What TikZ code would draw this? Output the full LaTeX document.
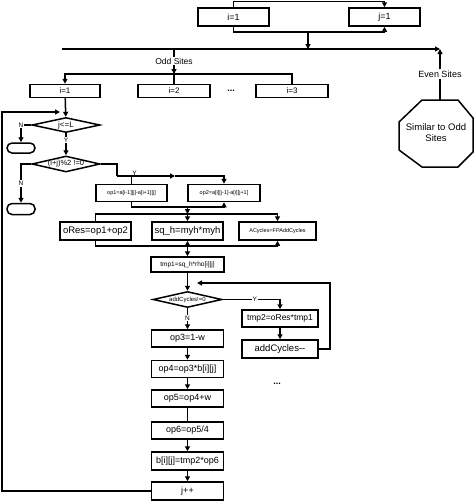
\documentclass[tikz,border=0pt]{standalone}
\usepackage{fontspec}
\setmainfont{Liberation Sans}
\usepackage{tikz}
\usetikzlibrary{shapes.geometric}
\usetikzlibrary{arrows.meta}
\usetikzlibrary{positioning}
\tikzset{
	flow/.style={line width=1.5pt},
	opbox/.style={draw, line width=1.5pt, rectangle, minimum width=71pt, minimum height=17pt, inner sep=0pt, font=\fontsize{9}{10}\selectfont},
	decbox/.style={draw, line width=1.5pt, diamond, aspect=4.3, minimum width=68pt, minimum height=15pt, inner sep=0pt, font=\fontsize{8}{9}\selectfont},
	endbox/.style={draw, line width=1.5pt, rounded corners=5pt, minimum width=28pt, minimum height=10pt, inner sep=0pt},
	lbl/.style={font=\fontsize{6.5}{7}\selectfont, inner sep=1pt, fill=white},
	>={Triangle[length=5pt,width=5pt]}
}

\begin{document}
\begin{tikzpicture}[x=1pt, y=-1pt]

					\useasboundingbox (0,0) rectangle (474,501);

					\node[opbox, minimum height=18pt] (ione) at (233.5,17) {i=1};
					\node[opbox, minimum height=18pt] (jone) at (384.5,17) {j=1};
					\draw[flow,->] (ione.north) -- ++(0,-6) -| (jone.north);
					\draw[flow,->] (ione.south) -- ++(0,5) -| (jone.south);

					\coordinate (topmid) at (308,31);
					\coordinate (sitesleft) at (62,49);
					\coordinate (sitesmid) at (308,49);
					\coordinate (sitesright) at (440,49);
					\draw[flow,->] (topmid) -- (sitesmid);
					\draw[flow,->] (sitesleft) -- (sitesright);

					\node[lbl, font=\fontsize{8.5}{9}\selectfont] (odd) at (174,61) {Odd Sites};
					\coordinate (oddbar) at (174,74);
					\draw[flow] (odd |- sitesleft) -- (odd);
					\draw[flow,->] (odd) -- (oddbar);

					\node[opbox, minimum width=70pt, minimum height=13pt, font=\fontsize{8}{9}\selectfont] (siteone) at (65,91) {i=1};
					\node[opbox, minimum width=72pt, minimum height=13pt, font=\fontsize{8}{9}\selectfont] (sitetwo) at (174,91) {i=2};
					\node[opbox, minimum width=72pt, minimum height=13pt, font=\fontsize{8}{9}\selectfont] (sitethree) at (292,91) {i=3};
					\node[font=\fontsize{9}{9}\selectfont\bfseries] (dotsone) at (231,91) {...};
					\draw[flow,->] (oddbar) -| (siteone.north);
					\draw[flow] (oddbar) -- (sitetwo.north);
					\draw[flow] (oddbar) -| (sitethree.north);

					\node[decbox] (jle) at (66,125) {j<=L};
					\draw[flow,->] (siteone) -- (jle);
					\node[endbox] (stopone) at (21,148) {};
					\draw[flow,->] (jle.west) -| node[lbl, pos=0.5] (nlblone) {N} (stopone.north);

					\node[decbox, minimum height=16pt, font=\fontsize{7.5}{8}\selectfont] (parity) at (66,164) {(i+j)\%2 !=0};
					\draw[flow,->] (jle.south) -- node[lbl, pos=0.3] (ylblone) {Y} (parity.north);
					\node[endbox, minimum height=11pt] (stoptwo) at (21,209) {};
					\draw[flow,->] (parity.west) -| node[lbl, pos=0.75] (nlbltwo) {N} (stoptwo.north);

					\node[opbox, font=\fontsize{5.5}{6}\selectfont] (opone) at (131.5,193) {op1=a[i-1][j]-a[i+1][j]};
					\node[opbox, minimum width=72pt, font=\fontsize{5.5}{6}\selectfont] (optwo) at (224,193) {op2=a[i][j-1]-a[i][j+1]};
					\coordinate (forka) at (117,176);
					\coordinate (forkb) at (175,176);
					\draw[flow] (parity.east) -| (forka);
					\draw[flow,->] (forka) -- (forkb);
					\draw[flow,->] (forkb) -| (optwo.north);
					\draw[flow] (forka -| opone.north) node[lbl, fill=none, above right=-1pt and -1pt] (ylbltwo) {Y} -- (opone.north);

					\coordinate (joina) at (187.5,207);
					\coordinate (forkc) at (187.5,214);
					\draw[flow] (opone.south) |- (joina);
					\draw[flow,->] (joina) -| (optwo.south);
					\draw[flow,->] (joina) -- (forkc);

					\node[opbox, minimum height=18pt, font=\fontsize{9.5}{10}\selectfont] (ores) at (95.5,231) {oRes=op1+op2};
					\node[opbox, minimum height=18pt, font=\fontsize{9.5}{10}\selectfont] (sqh) at (187.5,231) {sq\_h=myh*myh};
					\node[opbox, minimum width=77pt, minimum height=18pt, font=\fontsize{5.5}{6}\selectfont] (acyc) at (277.5,231) {ACycles=FPAddCycles};
					\draw[flow] (forkc) -| (ores.north);
					\draw[flow,->] (forkc) -- (sqh.north);
					\draw[flow,->] (forkc) -| (acyc.north);

					\coordinate (joinb) at (187.5,246);
					\node[opbox, minimum width=73pt, minimum height=15pt, font=\fontsize{6.5}{7}\selectfont] (tmpone) at (187.5,264.5) {tmp1=sq\_h*rho[i][j]};
					\draw[flow] (ores.south) |- (joinb);
					\draw[flow,->] (joinb) -| (acyc.south);
					\draw[flow,->] (joinb) -- (sqh.south);
					\draw[flow,->] (joinb) -- (tmpone.north);

					\node[decbox, minimum width=69pt, minimum height=16pt, font=\fontsize{6}{6}\selectfont] (addchk) at (187.5,299.5) {addCycles!=0};
					\draw[flow,->] (tmpone) -- (addchk);

					\node[opbox, minimum width=76pt, font=\fontsize{8.5}{9}\selectfont] (tmptwo) at (280,318.5) {tmp2=oRes*tmp1};
					\node[opbox, minimum width=76pt, minimum height=18pt, font=\fontsize{9.5}{10}\selectfont] (addcyc) at (280,349) {addCycles-{}-};
					\draw[flow,->] (addchk.east) -| node[lbl, pos=0.28] (ylblthree) {Y} (tmptwo.north);
					\draw[flow,->] (tmptwo) -- (addcyc);
					\coordinate (loopc) at (330,283);
					\coordinate (loopd) at (197,283);
					\draw[flow,->] (addcyc.east) -| (loopc) -- (loopd);

					\node[opbox, minimum width=72pt] (opthree) at (187.5,338.5) {op3=1-w};
					\node[opbox, minimum width=72pt] (opfour) at (187.5,369) {op4=op3*b[i][j]};
					\node[opbox, minimum width=72pt] (opfive) at (187.5,398.5) {op5=op4+w};
					\node[opbox, minimum width=72pt] (opsix) at (187.5,430.5) {op6=op5/4};
					\node[opbox, minimum width=72pt, minimum height=18pt] (bij) at (187.5,461) {b[i][j]=tmp2*op6};
					\node[opbox, minimum width=72pt, minimum height=18pt] (jinc) at (187.5,491) {j++};
					\draw[flow,->] (addchk.south) -- node[lbl, pos=0.47] (nlblthree) {N} (opthree.north);
					\draw[flow,->] (opthree) -- (opfour);
					\draw[flow,->] (opfour) -- (opfive);
					\draw[flow] (opfive) -- (opsix);
					\draw[flow,->] (opsix) -- (bij);
					\draw[flow,->] (bij) -- (jinc);
					\node[font=\fontsize{9}{9}\selectfont\bfseries] (dotstwo) at (277,384) {...};

					\coordinate (loopa) at (2,112);
					\coordinate (loopb) at (60,112);
					\draw[flow,->] (jinc.west) -| (loopa) -- (loopb);

					\node[lbl, font=\fontsize{9}{9}\selectfont] (even) at (440,74) {Even Sites};
					\coordinate (octtop) at (440,100);
					\draw[flow,->] (even) -- (sitesright);
					\draw[flow] (even) -- (octtop);
					\node[align=center, font=\fontsize{9.5}{11}\selectfont] (similar) at (436,133) {Similar to Odd\\Sites};
					\draw[flow] (399,122) -- (422,100) -- (458,100) -- (473,118) -- (473,152) -- (458,167) -- (422,167) -- (399,150) -- cycle;

\end{tikzpicture}
\end{document}
